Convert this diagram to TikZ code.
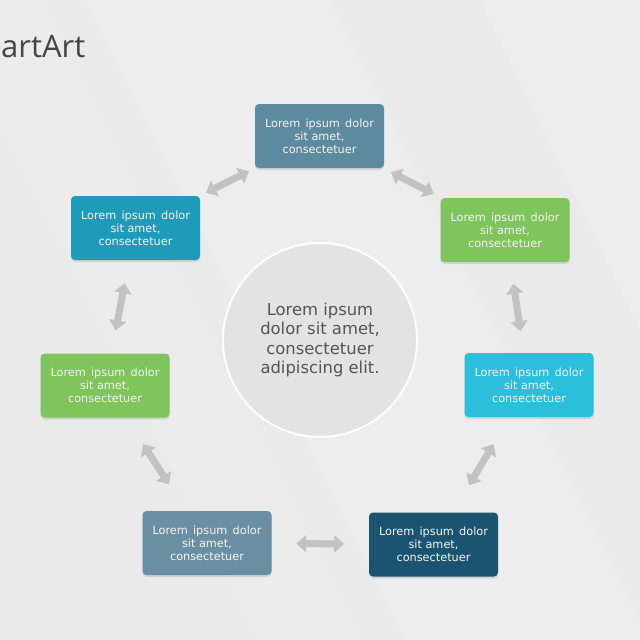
\documentclass[tikz,border=0pt]{standalone}
\usepackage{fontspec}
\setmainfont{DejaVu Sans}
\newfontfamily\titlefont{Open Sans}
\usetikzlibrary{calc,arrows.meta,shadows}
\definecolor{bgbase}{HTML}{EAEAEA}
\definecolor{cTop}{HTML}{5E8AA0}
\definecolor{cGreen}{HTML}{80C45C}
\definecolor{cCyan}{HTML}{2CBFDB}
\definecolor{cDark}{HTML}{1B5470}
\definecolor{cSlate}{HTML}{6B8FA2}
\definecolor{cTeal}{HTML}{1F9BBA}
\definecolor{boxtext}{HTML}{F4F4F4}
\definecolor{arrowgrey}{HTML}{C2C2C2}
\definecolor{circfill}{HTML}{E3E3E3}
\definecolor{circtext}{HTML}{555555}
\definecolor{titlegrey}{HTML}{444444}
\newcommand{\loremtxt}{\makebox[109pt][s]{Lorem ipsum dolor}\\sit amet,\\consectetuer}
\begin{document}
\begin{tikzpicture}[x=1pt,y=-1pt,
  box/.style={rectangle, rounded corners=4pt, minimum width=129pt, minimum height=64pt,
    inner sep=0pt, text=boxtext, align=center, font=\fontsize{11.3}{13}\selectfont,
    fill=#1, drop shadow={shadow xshift=0pt, shadow yshift=-2pt, opacity=0.22}},
  link/.style={draw=arrowgrey, line width=7pt,
    {Triangle[width=17pt,length=10pt]}-{Triangle[width=17pt,length=10pt]}},
  hub/.style={circle, minimum size=194pt, inner sep=0pt, fill=circfill, draw=white,
    line width=2pt, text=circtext, align=center, font=\fontsize{16.4}{19.5}\selectfont,
    drop shadow={shadow xshift=0pt, shadow yshift=-1pt, opacity=0.15}},
  band/.style={fill=white, opacity=0.15, draw=none}
]
\useasboundingbox (0,0) rectangle (640,640);
\clip (0,0) rectangle (640,640);
% background
\fill[bgbase] (0,0) rectangle (640,640);
\fill[band] (85,0) -- (330,0) -- (650,640) -- (405,640) -- cycle;
\fill[band] (480,0) -- (640,0) -- (640,330) -- cycle;
\fill[white, opacity=0.10] (-60,0) -- (40,0) -- (360,640) -- (260,640) -- cycle;
% title
\node[anchor=base west, inner sep=0pt, text=titlegrey, font=\titlefont\fontsize{31}{36}\selectfont] (title) at (1,57) {artArt};
% hub
\node[hub] (hub) at (320,340) {Lorem ipsum\\dolor sit amet,\\consectetuer\\adipiscing elit.};
% boxes
\node[box=cTop]   (b1) at (319.5,136) {\loremtxt};
\node[box=cGreen] (b2) at (505,230)   {\loremtxt};
\node[box=cCyan]  (b3) at (529,385)   {\loremtxt};
\node[box=cDark]  (b4) at (433.5,544.5) {\loremtxt};
\node[box=cSlate] (b5) at (207,543)   {\loremtxt};
\node[box=cGreen] (b6) at (105,385.5) {\loremtxt};
\node[box=cTeal]  (b7) at (135.5,228) {\loremtxt};
% arrows
\foreach \a/\b in {b1/b2,b2/b3,b3/b4,b4/b5,b5/b6,b6/b7,b7/b1}{
  \coordinate (m-\a) at ($(\a.center)!0.5!(\b.center)$);
  \draw[link] ($(m-\a)!24pt!(\a.center)$) -- ($(m-\a)!24pt!(\b.center)$);
}
\end{tikzpicture}
\end{document}
